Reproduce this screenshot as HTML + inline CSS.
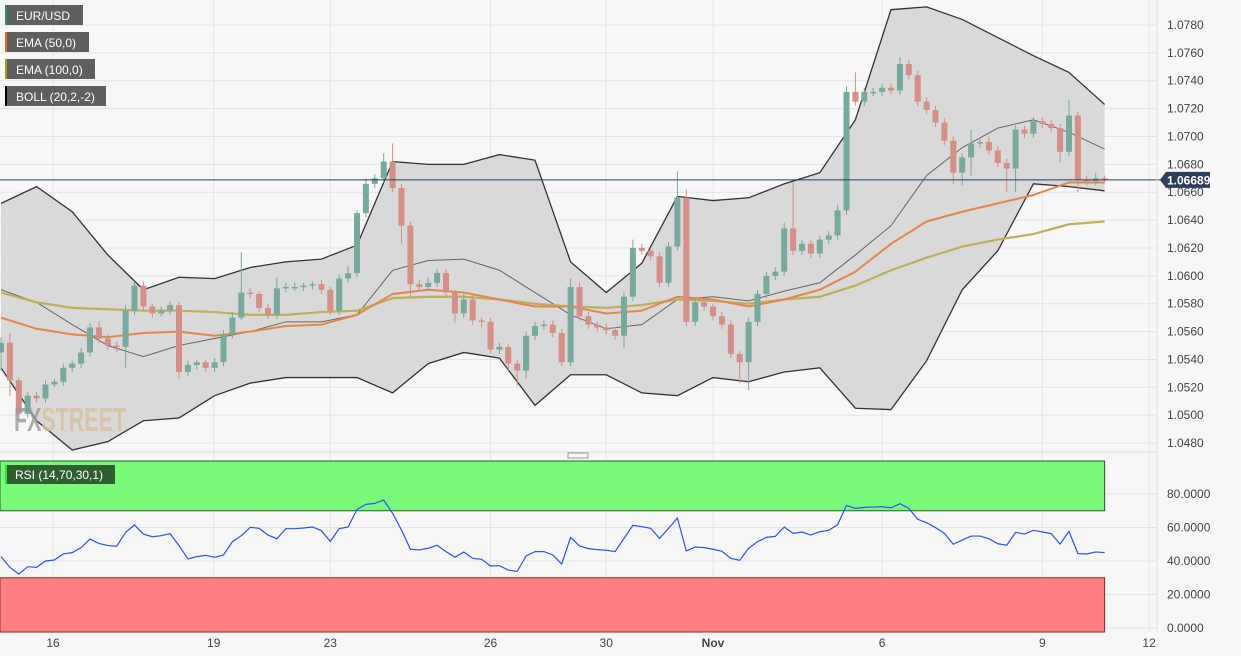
<!DOCTYPE html>
<html><head><meta charset="utf-8"><style>
html,body{margin:0;padding:0;background:#f7f7f7;}
svg{display:block;font-family:"Liberation Sans",sans-serif;}
</style></head><body>
<svg id="chart" width="1241" height="656" viewBox="0 0 1241 656" xmlns="http://www.w3.org/2000/svg">
<rect x="0" y="0" width="1241" height="656" fill="#f7f7f7"/>
<g id="grid"></g>
<g id="bands"></g>
<g id="emas"></g>
<g id="candles"></g>
<text x="14" y="431" font-size="33" font-weight="bold" textLength="112" lengthAdjust="spacingAndGlyphs" fill="#d8c0a0" opacity="0.8"><tspan fill="#9a9a9a">FX</tspan>STREET</text>
<g id="rsi"></g>
<g id="axes"></g>
<line x1="0" y1="452" x2="1157" y2="452" stroke="#dcdcdc"/>
<rect x="568" y="453" width="20" height="5" fill="none" stroke="#999" stroke-width="1"/>
<line x1="1157" y1="0" x2="1157" y2="632" stroke="#dedede"/>
<g>
<g><rect x="5" y="5" width="78" height="20" fill="#5f5f5f"/><rect x="5" y="5" width="2" height="20" fill="#2e8b74"/><text x="16" y="20" font-size="12" fill="#fff">EUR/USD</text></g>
<g><rect x="5" y="32" width="84" height="20" fill="#5f5f5f"/><rect x="5" y="32" width="2" height="20" fill="#e8651c"/><text x="16" y="47" font-size="12" fill="#fff">EMA (50,0)</text></g>
<g><rect x="5" y="59" width="90" height="20" fill="#5f5f5f"/><rect x="5" y="59" width="2" height="20" fill="#a89a10"/><text x="16" y="74" font-size="12" fill="#fff">EMA (100,0)</text></g>
<g><rect x="5" y="86" width="101" height="20" fill="#5f5f5f"/><rect x="5" y="86" width="2" height="20" fill="#000"/><text x="16" y="101" font-size="12" fill="#fff">BOLL (20,2,-2)</text></g>
</g>
</svg>
<script>
const firstOpen = 1.0545;
const closes = [1.0552,1.0525,1.0501,1.0514,1.0512,1.0522,1.0524,1.0534,1.0537,1.0545,
1.0563,1.0555,1.0550,1.0549,1.0575,1.0593,1.0578,1.0573,1.0575,1.0579,
1.0531,1.0536,1.0538,1.0534,1.0538,1.0558,1.0570,1.0588,1.0587,1.0577,
1.0572,1.0591,1.0592,1.0592,1.0593,1.0594,1.0590,1.0575,1.0598,1.0602,
1.0645,1.0666,1.0670,1.0682,1.0663,1.0636,1.0594,1.0592,1.0595,1.0602,
1.0588,1.0573,1.0583,1.0568,1.0567,1.0547,1.0549,1.0537,1.0532,1.0557,
1.0564,1.0565,1.0559,1.0538,1.0592,1.0571,1.0565,1.0563,1.0561,1.0557,
1.0585,1.0620,1.0618,1.0614,1.0595,1.0621,1.0656,1.0567,1.0581,1.0578,
1.0571,1.0565,1.0544,1.0538,1.0567,1.0587,1.0600,1.0603,1.0634,1.0618,
1.0623,1.0616,1.0626,1.0629,1.0647,1.0732,1.0725,1.0732,1.0732,1.0735,
1.0733,1.0752,1.0744,1.0725,1.0719,1.0710,1.0697,1.0674,1.0685,1.0695,
1.0696,1.0690,1.0681,1.0677,1.0705,1.0702,1.0711,1.0709,1.0706,1.0689,
1.0715,1.0669,1.0668,1.0670,1.0669];
const wickUpPips = [4,7,2,3,3,3,2,3,2,3, 3,4,3,3,4,3,3,2,3,3, 2,3,2,2,3,3,4,29,3,2, 3,8,3,3,2,2,3,2,3,5,
2,4,3,6,13,3,3,3,4,3, 3,2,4,3,2,3,3,2,3,3, 3,3,3,3,6,3,3,2,3,2, 3,6,3,2,3,3,19,6,3,3,
2,3,3,2,3,3,3,3,4,33, 3,3,3,3,4,4,14,3,3,3, 3,5,3,3,3,3,3,3,3,10, 3,4,3,3,3,3,3,3,3,3, 11,3,3,4,2];
const wickDownPips = [13,11,5,3,3,3,2,3,3,3, 3,3,3,4,15,3,3,3,2,3, 5,3,3,3,3,3,3,2,3,3, 3,3,3,3,3,3,3,3,3,3,
3,3,3,3,3,13,9,3,3,3, 3,7,3,3,4,3,3,5,11,6, 3,3,3,3,3,3,3,3,3,3, 9,3,3,3,3,3,3,3,3,3,
3,3,3,15,20,3,3,3,3,3, 3,3,3,3,3,3,3,3,3,3, 3,3,3,3,3,3,3,8,9,13, 3,3,3,17,17,3,3,3,3,8, 3,9,3,3,2];
const bandIdx = [0,4,8,12,16,20,24,28,32,36,40,44,48,52,56,60,64,68,72,76,80,84,88,92,96,100,104,108,112,116,120,124];
const bollUpper = [1.0652,1.0664,1.0646,1.0615,1.0590,1.0599,1.0598,1.0606,1.0610,1.0612,1.0622,1.0682,1.0680,1.0680,1.0687,1.0683,1.0610,1.0588,1.0609,1.0657,1.0654,1.0656,1.0666,1.0674,1.0712,1.0791,1.0793,1.0784,1.0771,1.0758,1.0746,1.0723];
const bollMiddle = [1.0590,1.0581,1.0565,1.0550,1.0542,1.0550,1.0555,1.0560,1.0567,1.0567,1.0572,1.0604,1.0611,1.0612,1.0604,1.0588,1.0572,1.0562,1.0565,1.0583,1.0585,1.0582,1.0589,1.0595,1.0615,1.0636,1.0672,1.0692,1.0706,1.0712,1.0703,1.0691];
const bollLower = [1.0534,1.0496,1.0475,1.0481,1.0496,1.0498,1.0514,1.0523,1.0527,1.0527,1.0527,1.0516,1.0537,1.0545,1.0541,1.0507,1.0529,1.0529,1.0516,1.0514,1.0527,1.0524,1.0531,1.0534,1.0505,1.0504,1.0539,1.0590,1.0618,1.0666,1.0664,1.0661];
const ema50 = [1.0570,1.0562,1.0558,1.0556,1.0559,1.0560,1.0557,1.0560,1.0564,1.0565,1.0572,1.0587,1.0590,1.0588,1.0583,1.0578,1.0578,1.0573,1.0575,1.0585,1.0583,1.0578,1.0583,1.0590,1.0603,1.0623,1.0639,1.0646,1.0652,1.0658,1.0667,1.0667];
const ema100 = [1.0588,1.0581,1.0577,1.0576,1.0575,1.0575,1.0574,1.0572,1.0572,1.0574,1.0575,1.0584,1.0585,1.0585,1.0583,1.0580,1.0578,1.0577,1.0579,1.0583,1.0582,1.0580,1.0583,1.0585,1.0593,1.0604,1.0613,1.0621,1.0626,1.0630,1.0637,1.0639];
const rsiValues = [42.6,36.2,32.2,36.6,36.2,40.0,40.6,44.2,45.0,48.0, 53.1,50.5,49.2,48.8,57.1,61.5,56.1,54.5,55.1,56.3,
49.2,41.2,42.6,43.4,42.2,43.6,51.5,55.1,60.1,59.5, 55.5,53.3,59.3,59.3,59.7,60.3,58.1,51.7,59.3,60.3,
70.8,73.8,74.4,76.4,68.5,58.5,47.0,46.6,47.6,49.4, 45.6,42.2,45.4,41.6,41.0,37.0,37.2,34.6,33.8,43.0,
45.6,45.6,43.6,38.2,54.1,49.0,47.4,46.8,46.4,45.6, 53.5,61.3,60.5,59.5,53.5,59.5,65.7,46.0,48.4,48.0,
47.0,45.8,41.6,40.4,47.6,51.5,54.1,54.7,60.3,56.5, 57.3,55.5,57.5,58.3,61.7,73.2,71.4,72.0,72.2,72.4,
71.8,74.2,71.4,64.9,62.9,59.9,56.5,50.0,52.5,54.9, 54.9,53.3,50.3,49.4,57.1,56.1,58.3,57.3,56.3,50.1,
57.7,44.4,44.2,45.4,45.0];
const priceTicks = [1.0780,1.0760,1.0740,1.0720,1.0700,1.0680,1.0660,1.0640,1.0620,1.0600,1.0580,1.0560,1.0540,1.0520,1.0500,1.0480];
const rsiTicks = [80,60,40,20,0];
const dateLabels = ["16","19","23","26","30","Nov","6","9","12"];
const dateIdx = [5.85,23.9,37,55,68,80,99,117,129];
const lastPrice = 1.06689;

const NS="http://www.w3.org/2000/svg";
const xS = i => 1 + 8.9*i;
const yS = p => 25 + (1.078 - p)*13935;
const rY = v => 628 - v*1.675;
function mk(tag, parent, attrs){const e=document.createElementNS(NS,tag);for(const k in attrs)e.setAttribute(k,attrs[k]);parent.appendChild(e);return e;}
const G=id=>document.getElementById(id);

// grid
const grid=G('grid');
priceTicks.forEach(p=>{const l=mk('line',grid,{x1:0,x2:1157,y1:yS(p),y2:yS(p),stroke:'#e4e4e4'});

});
dateIdx.forEach(d=>{const l=mk('line',grid,{x1:xS(d),x2:xS(d),y1:0,y2:632,stroke:'#e4e4e4'});

});

// bollinger
const bands=G('bands');
const up=bandIdx.map((i,k)=>xS(i)+','+yS(bollUpper[k]));
const lo=bandIdx.map((i,k)=>xS(i)+','+yS(bollLower[k])).reverse();
const fill=mk('polygon',bands,{points:up.concat(lo).join(' '),fill:'#d9d9d9'});


[[bollUpper,'boll-upper','#333',1.3],[bollLower,'boll-lower','#333',1.3],[bollMiddle,'boll-middle','#666',1]].forEach(s=>{
const pl=mk('polyline',bands,{points:bandIdx.map((i,k)=>xS(i)+','+yS(s[0][k])).join(' '),fill:'none',stroke:s[2],'stroke-width':s[3]});

});

// candles
const cg=G('candles');
closes.forEach((c,i)=>{
const o=i===0?firstOpen:closes[i-1];
const up=c>=o;
const col=up?'#79a99c':'#d38f88';
const hi=Math.max(o,c)+wickUpPips[i]*0.0001, lw=Math.min(o,c)-wickDownPips[i]*0.0001;
const g=mk('g',cg,{});


mk('line',g,{x1:xS(i),x2:xS(i),y1:yS(hi),y2:yS(lw),stroke:col,'stroke-width':1});
const t=yS(Math.max(o,c)), b=yS(Math.min(o,c));
mk('rect',g,{x:xS(i)-3,y:t,width:6,height:Math.max(1.5,b-t),fill:col});
});

// emas
const eg=G('emas');
[[ema100,'ema100-line','#bdb05a',2.2],[ema50,'ema50-line','#e3874c',2]].forEach(s=>{
const pl=mk('polyline',eg,{points:bandIdx.map((i,k)=>xS(i)+','+yS(s[0][k])).join(' '),fill:'none',stroke:s[2],'stroke-width':s[3]});

});

// last price line
const ax=G('axes');
const lp=mk('line',ax,{x1:0,x2:1162,y1:yS(lastPrice),y2:yS(lastPrice),stroke:'#2c3e5c','stroke-width':1});


const lb=mk('path',ax,{d:`M1160 ${yS(lastPrice)} L1166 ${yS(lastPrice)-8} H1210 V${yS(lastPrice)+8} H1166 Z`,fill:'#2c3e5c'});


const lt=mk('text',ax,{x:1167,y:yS(lastPrice)+4.5,'font-size':12,'font-weight':'bold',fill:'#fff'});
lt.textContent=lastPrice.toFixed(5);


priceTicks.forEach(p=>{const t=mk('text',ax,{x:1167,y:yS(p)+4,'font-size':12,fill:'#444'});t.textContent=p.toFixed(4);

});
dateLabels.forEach((d,k)=>{const t=mk('text',ax,{x:xS(dateIdx[k]),y:647,'font-size':12,fill:'#444','text-anchor':'middle','font-weight':d==='Nov'?'bold':'normal'});t.textContent=d;

});

// rsi
const rg=G('rsi');
rsiTicks.forEach(v=>{const l=mk('line',rg,{x1:0,x2:1157,y1:rY(v),y2:rY(v),stroke:'#e4e4e4'});


const t=mk('text',ax,{x:1167,y:rY(v)+4,'font-size':12,fill:'#444'});t.textContent=v.toFixed(4);

});
const ob=mk('rect',rg,{x:0,y:461,width:xS(124),height:rY(70)-461,fill:'#7afa7a',stroke:'#2a5a2a','stroke-width':1});


const os=mk('rect',rg,{x:0,y:rY(30),width:xS(124),height:632-rY(30),fill:'#fd8080',stroke:'#8a2a2a','stroke-width':1});


const rl=mk('polyline',rg,{points:rsiValues.map((v,i)=>xS(i)+','+rY(v)).join(' '),fill:'none',stroke:'#2a55ff','stroke-width':1.2});


const rlg=mk('g',rg,{});


mk('rect',rlg,{x:5,y:465,width:110,height:19,fill:'#2f5f2f'});
mk('rect',rlg,{x:5,y:465,width:2,height:19,fill:'#22ee22'});
const rt=mk('text',rlg,{x:15,y:479,'font-size':12,fill:'#fff'});rt.textContent='RSI (14,70,30,1)';
</script>
</body></html>
